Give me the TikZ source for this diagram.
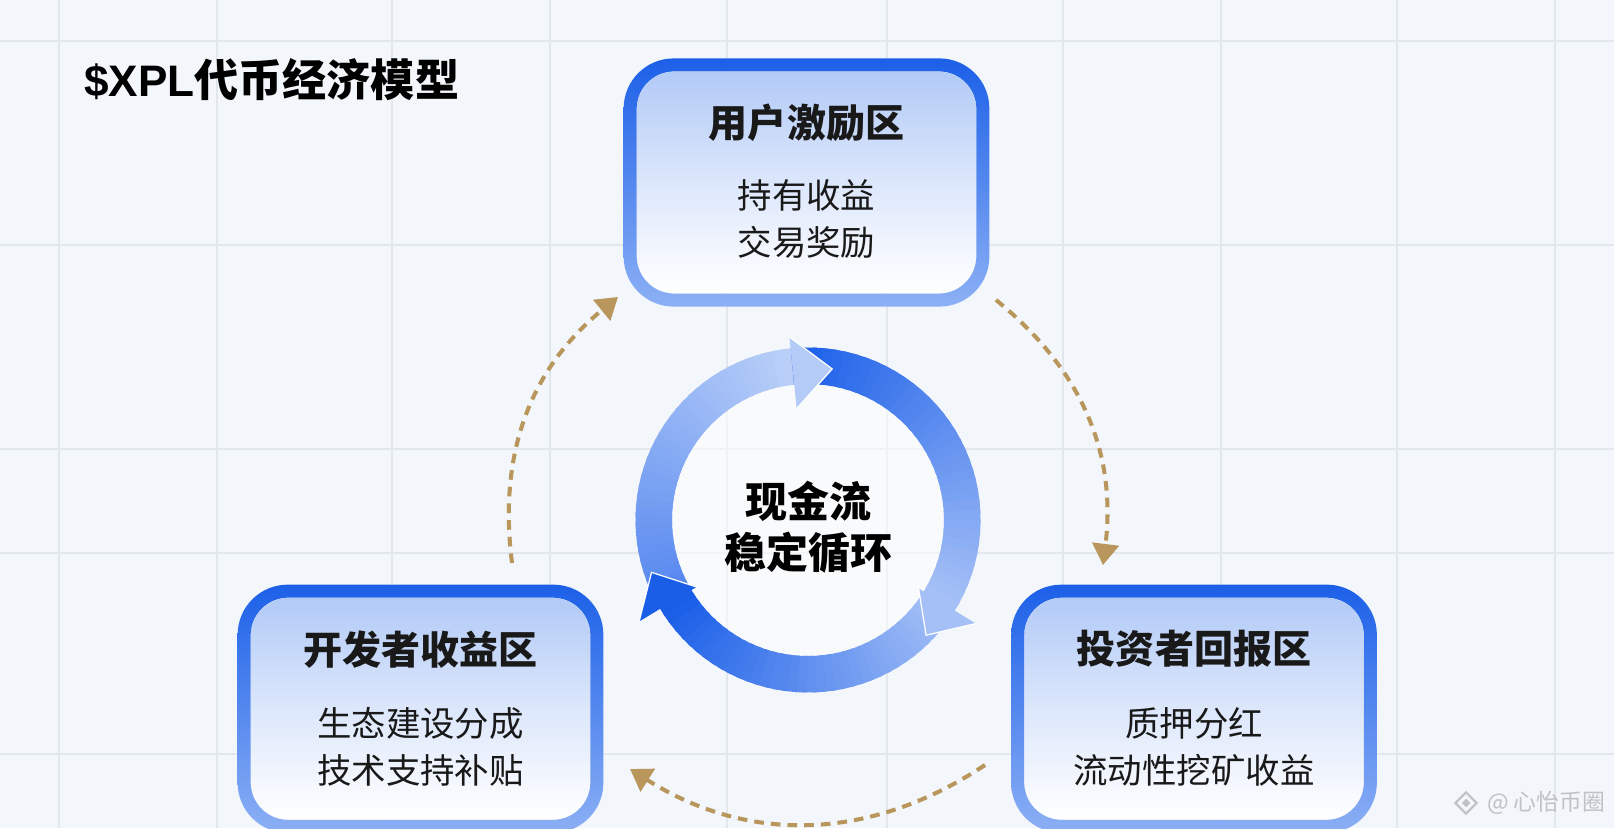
\documentclass[tikz,border=0pt]{standalone}
\usepackage{fontspec}
\setmainfont{Noto Sans CJK SC}
\newfontfamily\latinfont{Liberation Sans}
\usetikzlibrary{arrows.meta}
\definecolor{bgpaper}{RGB}{243,246,250}
\definecolor{gridgray}{RGB}{226,231,238}
\definecolor{rimdark}{RGB}{28,96,232}
\definecolor{rimlight}{RGB}{140,176,245}
\definecolor{boxblue}{RGB}{178,202,247}
\definecolor{flowgold}{RGB}{184,150,92}
\definecolor{ringdark}{RGB}{26,94,232}
\definecolor{ringmid}{RGB}{84,134,239}
\definecolor{ringlight}{RGB}{185,207,248}
\definecolor{ringpale}{RGB}{165,192,246}
\definecolor{markgray}{RGB}{192,193,198}

% blue frame round a zone box, darker at the top
\newcommand{\zonerim}[1]{%
  \shade[top color=rimdark, bottom color=rimlight, even odd rule]
    [rounded corners=1cm] ([shift={(-0.26,-0.26)}]#1.south west) rectangle ([shift={(0.26,0.26)}]#1.north east)
    [rounded corners=0.75cm] (#1.south west) rectangle (#1.north east);}

% one coloured piece of the ring: from angle, to angle, from colour, to colour
\newcommand{\ringpart}[4]{%
  \foreach \k in {0,...,35}{%
    \pgfmathsetmacro{\ra}{#1+(#2-#1)*\k/36}%
    \pgfmathsetmacro{\rb}{#1+(#2-#1)*(\k+1.5)/36}%
    \pgfmathtruncatemacro{\rp}{100-\k*100/35}%
    \draw[line width=0.73cm, #3!\rp!#4] (\ra:3.085) arc[start angle=\ra, end angle=\rb, radius=3.085];
  }}

% arrow head of the ring: base angle, tip angle, inner r, tip r, outer r, colour
\newcommand{\ringtip}[6]{%
  \fill[#6] (#1:#3) -- (#2:#4) -- (#1:#5) -- cycle;
  \draw[white, line width=0.7pt] (#1:#3) -- (#2:#4) -- (#1:#5);}

\tikzset{
  zonebox/.style={rectangle, rounded corners=0.75cm, minimum width=6.78cm, minimum height=4.43cm,
    inner sep=0pt, top color=boxblue, bottom color=white, middle color=boxblue!45!white},
  zonetitle/.style={font=\fontsize{22.2pt}{26pt}\selectfont\bfseries, text=black!90},
  zoneitems/.style={font=\fontsize{19.6pt}{26.6pt}\selectfont, align=center, text=black!90},
  flow/.style={flowgold, line width=2.3pt, dash pattern=on 5.5pt off 4pt,
    -{Triangle[width=15pt,length=12pt]}}
}

\begin{document}
\begin{tikzpicture}
\useasboundingbox (0,0) rectangle (32.28,16.56);
\fill[bgpaper] (0,0) rectangle (32.28,16.56);

% Grid
\foreach \x in {1.18,4.34,7.84,11.0,14.54,17.74,21.26,24.42,27.94,31.1}
  \draw[gridgray, line width=0.8pt] (\x,0) -- (\x,16.56);
\foreach \y in {15.74,11.66,7.58,5.5,1.48}
  \draw[gridgray, line width=0.8pt] (0,\y) -- (32.28,\y);

% Title
\node[anchor=west, font=\fontsize{25.1pt}{30pt}\selectfont\bfseries] (title) at (1.56,14.96)
  {{\latinfont\$XPL}代币经济模型};

% Zones
\node[zonebox] (ua) at (16.13,12.91) {};
\node[zonebox] (dev) at (8.41,2.385) {};
\node[zonebox] (inv) at (23.88,2.385) {};
\zonerim{ua}
\zonerim{dev}
\zonerim{inv}

\node[zonetitle] (ua-t) at ([yshift=-1.03cm]ua.north) {用户激励区};
\node[zoneitems] (ua-i) at ([yshift=-2.95cm]ua.north) {持有收益\\交易奖励};
\node[zonetitle] (dev-t) at ([yshift=-1.03cm]dev.north) {开发者收益区};
\node[zoneitems] (dev-i) at ([yshift=-2.98cm]dev.north) {生态建设分成\\技术支持补贴};
\node[zonetitle] (inv-t) at ([yshift=-1.03cm]inv.north) {投资者回报区};
\node[zoneitems] (inv-i) at ([yshift=-2.98cm]inv.north) {质押分红\\流动性挖矿收益};

% Cycle in the middle
\coordinate (hub) at (16.16,6.16);
\fill[white, opacity=0.5] (hub) circle (2.72);
\begin{scope}[shift={(hub)}]
  \ringpart{211}{95.8}{ringmid}{ringlight}
  \ringpart{95.8}{-31.7}{ringdark}{ringpale}
  \ringpart{-31.7}{-149}{ringpale}{ringdark}
  \ringtip{95.8}{80.9}{2.24}{3.06}{3.68}{ringlight!95!ringmid}
  \ringtip{-31.7}{-44.3}{2.6}{3.3}{3.94}{ringpale}
  \ringtip{211}{198.5}{2.6}{3.3}{3.94}{ringdark}
\end{scope}
\node[font=\fontsize{23.9pt}{28.9pt}\selectfont\bfseries, align=center] (cash) at ([yshift=-0.15cm]hub)
  {现金流\\稳定循环};

% Flow between zones
\coordinate (f1a) at (19.92,10.56);
\coordinate (f1b) at (22.06,5.26);
\coordinate (f2a) at (19.7,1.26);
\coordinate (f2b) at (12.6,1.18);
\coordinate (f3a) at (10.24,5.3);
\coordinate (f3b) at (12.36,10.62);
\draw[flow] (f1a) to[bend left=29] (f1b);
\draw[flow] (f2a) to[bend left=33] (f2b);
\draw[flow] (f3a) to[bend left=29] (f3b);

% Watermark
\node[draw=markgray, line width=1.2pt, rotate=45, minimum size=0.3cm, inner sep=0pt] (wm-logo) at (29.32,0.5) {};
\node[fill=markgray, rotate=45, minimum size=0.12cm, inner sep=0pt] (wm-dot) at (wm-logo) {};
\node[anchor=west, text=markgray, font=\fontsize{13pt}{15pt}\selectfont] (wm) at (29.62,0.5) {@ 心怡币圈};
\end{tikzpicture}
\end{document}
